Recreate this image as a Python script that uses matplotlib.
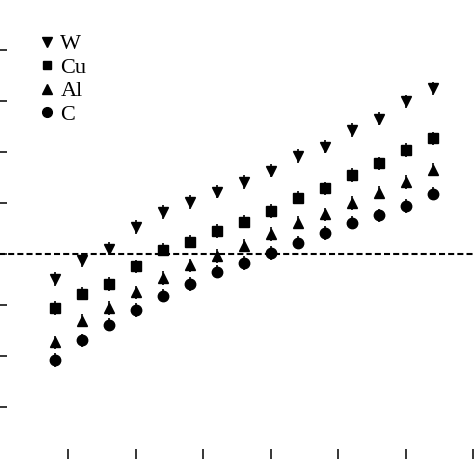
import matplotlib.pyplot as plt
from matplotlib.lines import Line2D

# values
x_vals = [4, 6, 8, 10, 12, 14, 16, 18, 20, 22, 24, 26, 28, 30, 32]
w_vals = [-0.48, -0.11, 0.11, 0.54, 0.83, 1.03, 1.23, 1.42, 1.64, 1.93, 2.11, 2.44, 2.66, 3.00, 3.26]
cu_vals = [-1.05, -0.77, -0.58, -0.23, 0.09, 0.25, 0.46, 0.64, 0.85, 1.11, 1.30, 1.56, 1.79, 2.05, 2.28]
al_vals = [-1.72, -1.30, -1.05, -0.74, -0.46, -0.21, -0.03, 0.17, 0.40, 0.62, 0.79, 1.01, 1.21, 1.42, 1.66]
c_vals = [-2.07, -1.68, -1.38, -1.09, -0.81, -0.58, -0.34, -0.17, 0.03, 0.23, 0.42, 0.62, 0.77, 0.95, 1.19]
err = 0.13

x_ticks = [5, 10, 15, 20, 25, 30, 35]
y_ticks = [-3, -2, -1, 0, 1, 2, 3, 4]

series = [
    ("W", w_vals, "v"),
    ("Cu", cu_vals, "s"),
    ("Al", al_vals, "^"),
    ("C", c_vals, "o"),
]

W, H = 474, 459
fig = plt.figure(figsize=(W / 100, H / 100), dpi=100)

# the reference is a crop: spines sit just outside the picture
x0, x1 = -0.2, 40.0
y0, y1 = -4.05, 6.0
px_x, px_y = 13.5, 51.0
left_px = 0.5 + x0 * px_x
bottom_px = 461
ax = fig.add_axes([left_px / W, (H - bottom_px) / H,
                   (x1 - x0) * px_x / W, (y1 - y0) * px_y / H])
ax.set_xlim(x0, x1)
ax.set_ylim(y0, y1)

handles = []
for name, vals, mk in series:
    ms = 6.5 if mk == "s" else 7.5
    ax.errorbar(x_vals, vals, yerr=err, fmt=mk, color="black", ecolor="black",
                markersize=ms, elinewidth=1.2, capsize=0)
    handles.append(Line2D([], [], marker=mk, linestyle="none", color="black",
                          markersize=ms - 0.5, label=name))

ax.axhline(0, color="black", linestyle=(0, (2.9, 1.5)), linewidth=1.5)

ax.set_xticks(x_ticks)
ax.set_yticks(y_ticks)
ax.tick_params(axis="x", direction="in", length=8.5, width=1.1, labelbottom=False)
ax.tick_params(axis="y", direction="in", length=6.5, width=1.1, labelleft=False)

ax.legend(handles=handles, loc="upper left", bbox_to_anchor=(27 / W, 1 - 25 / H),
          bbox_transform=fig.transFigure, frameon=False,
          prop={"family": "Liberation Serif", "size": 16},
          handletextpad=0.1, labelspacing=0.13, handlelength=1.0,
          borderaxespad=0)

fig.savefig("out.png", dpi=100)
